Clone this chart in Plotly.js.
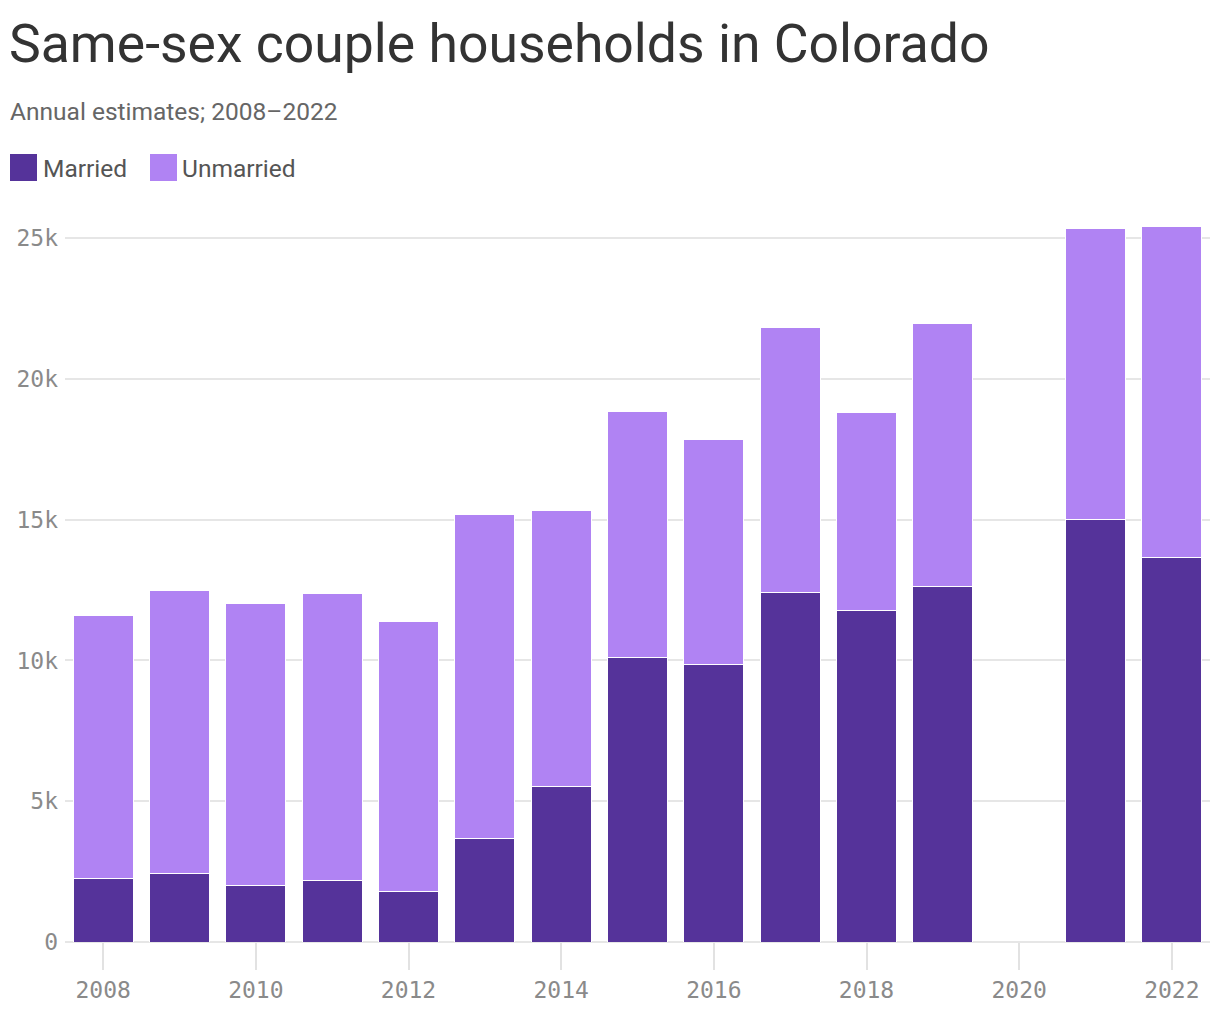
<!DOCTYPE html>
<html>
<head>
<meta charset="utf-8">
<script src="https://cdn.plot.ly/plotly-3.0.1.min.js"></script>
<style>
  html, body { margin: 0; padding: 0; background: #fff; }
  #chart { width: 1220px; height: 1018px; }
</style>
</head>
<body>
<div id="chart"></div>
<script>
const years = [2008, 2009, 2010, 2011, 2012, 2013, 2014, 2015, 2016, 2017, 2018, 2019, 2020, 2021, 2022];
const married = [2270, 2450, 1990, 2200, 1810, 3660, 5540, 10090, 9840, 12430, 11790, 12610, null, 14990, 13670];
const unmarried = [9310, 10050, 10050, 10190, 9590, 11540, 9800, 8770, 8020, 9410, 7000, 9370, null, 10370, 11760];
const yTickVals = [0, 5000, 10000, 15000, 20000, 25000];
const yTickText = ['0', '5k', '10k', '15k', '20k', '25k'];
const xTickVals = [2008, 2010, 2012, 2014, 2016, 2018, 2020, 2022];
const seriesNames = ['Married', 'Unmarried'];
const colors = ['#55339a', '#b083f3'];

const titleText = 'Same-sex couple households in Colorado';
const subtitleText = 'Annual estimates; 2008–2022';

const sansFont = 'Roboto, "Noto Sans", sans-serif';
const monoFont = '"DejaVu Sans Mono", "Liberation Mono", monospace';

const traces = [
  {
    type: 'bar', name: seriesNames[0], x: years, y: married,
    marker: { color: colors[0], line: { color: '#ffffff', width: 1 } },
    hoverinfo: 'x+y'
  },
  {
    type: 'bar', name: seriesNames[1], x: years, y: unmarried,
    marker: { color: colors[1], line: { color: '#ffffff', width: 1 } },
    hoverinfo: 'x+y'
  }
];

// paper coordinate helpers (plot area: x 65..1210, y 210..942)
const PL = 65, PR = 1210, PT = 210, PB = 942;
const px = v => (v - PL) / (PR - PL);
const py = v => (PB - v) / (PB - PT);

const layout = {
  width: 1220, height: 1018,
  margin: { l: PL, r: 1220 - PR, t: PT, b: 1018 - PB, pad: 0 },
  paper_bgcolor: '#ffffff', plot_bgcolor: '#ffffff',
  barmode: 'stack', bargap: 0.21,
  showlegend: false,
  xaxis: {
    range: [2007.5, 2022.5],
    tickvals: xTickVals,
    ticktext: xTickVals.map(String),
    ticks: 'outside', ticklen: 27, tickwidth: 2, tickcolor: '#e2e2e2',
    showgrid: false, zeroline: false, showline: false,
    tickfont: { family: monoFont, size: 23, color: '#8a8a8a' },
    fixedrange: true
  },
  yaxis: {
    range: [0, 26000],
    tickvals: yTickVals, ticktext: yTickText,
    showgrid: true, gridcolor: '#e6e6e6', gridwidth: 2,
    zeroline: true, zerolinecolor: '#e6e6e6', zerolinewidth: 2,
    showline: false, ticks: '',
    ticklabelstandoff: 6,
    tickfont: { family: monoFont, size: 23, color: '#8a8a8a' },
    fixedrange: true
  },
  shapes: [
    { type: 'rect', xref: 'paper', yref: 'paper', x0: px(10), x1: px(37), y0: py(181), y1: py(154), fillcolor: colors[0], line: { width: 0 } },
    { type: 'rect', xref: 'paper', yref: 'paper', x0: px(150), x1: px(177), y0: py(181), y1: py(154), fillcolor: colors[1], line: { width: 0 } }
  ],
  annotations: [
    { text: titleText, xref: 'paper', yref: 'paper', x: px(7), y: py(43), xanchor: 'left', yanchor: 'middle', showarrow: false,
      font: { family: sansFont, size: 53.5, color: '#333333' } },
    { text: subtitleText, xref: 'paper', yref: 'paper', x: px(8), y: py(112), xanchor: 'left', yanchor: 'middle', showarrow: false,
      font: { family: sansFont, size: 24.5, color: '#666666' } },
    { text: seriesNames[0], xref: 'paper', yref: 'paper', x: px(41), y: py(168), xanchor: 'left', yanchor: 'middle', showarrow: false,
      font: { family: sansFont, size: 24.5, color: '#555555' } },
    { text: seriesNames[1], xref: 'paper', yref: 'paper', x: px(180), y: py(168), xanchor: 'left', yanchor: 'middle', showarrow: false,
      font: { family: sansFont, size: 24.5, color: '#555555' } }
  ]
};

Plotly.newPlot('chart', traces, layout, { displayModeBar: false, staticPlot: true });
</script>
</body>
</html>
